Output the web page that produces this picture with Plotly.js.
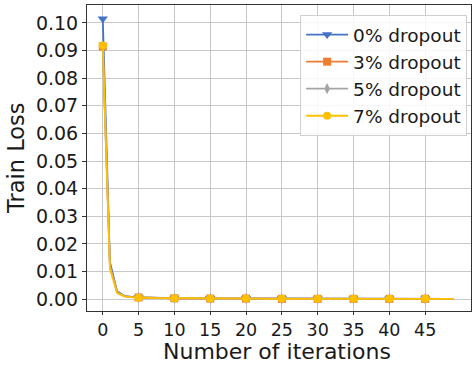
<!DOCTYPE html>
<html>
<head>
<meta charset="utf-8">
<script src="https://cdn.plot.ly/plotly-3.0.1.min.js"></script>
<style>html,body{margin:0;padding:0;background:#fff;}#chart{width:474px;height:366px;}</style>
</head>
<body>
<div id="chart"></div>
<script>
const iterations = Array.from({length: 50}, (_, i) => i);
const seriesNames = ["0% dropout", "3% dropout", "5% dropout", "7% dropout"];
const loss0 = [0.1015, 0.0135, 0.0028, 0.0012, 0.0008, 0.0006, 0.0005, 0.0005, 0.0004, 0.0004,
  0.0004, 0.0003, 0.0003, 0.0003, 0.0003, 0.0003, 0.0002, 0.0002, 0.0002, 0.0002,
  0.0002, 0.0002, 0.0002, 0.0002, 0.0002, 0.0002, 0.0001, 0.0001, 0.0001, 0.0001,
  0.0001, 0.0001, 0.0001, 0.0001, 0.0001, 0.0001, 0.0001, 0.0001, 0.0001, 0.0001,
  0.0001, 0.0001, 0.0001, 0.0001, 0.0001, 0.0001, 0.0001, 0.0001, 0.0001, 0.0001];
const loss3 = [0.0915, 0.0122, 0.0026, 0.0011, 0.0007, 0.0006, 0.0005, 0.0004, 0.0004, 0.0004,
  0.0003, 0.0003, 0.0003, 0.0003, 0.0003, 0.0002, 0.0002, 0.0002, 0.0002, 0.0002,
  0.0002, 0.0002, 0.0002, 0.0002, 0.0002, 0.0001, 0.0001, 0.0001, 0.0001, 0.0001,
  0.0001, 0.0001, 0.0001, 0.0001, 0.0001, 0.0001, 0.0001, 0.0001, 0.0001, 0.0001,
  0.0001, 0.0001, 0.0001, 0.0001, 0.0001, 0.0001, 0.0001, 0.0001, 0.0001, 0.0001];
const loss5 = [0.0912, 0.0118, 0.0025, 0.0011, 0.0007, 0.0006, 0.0005, 0.0004, 0.0004, 0.0003,
  0.0003, 0.0003, 0.0003, 0.0003, 0.0002, 0.0002, 0.0002, 0.0002, 0.0002, 0.0002,
  0.0002, 0.0002, 0.0002, 0.0002, 0.0001, 0.0001, 0.0001, 0.0001, 0.0001, 0.0001,
  0.0001, 0.0001, 0.0001, 0.0001, 0.0001, 0.0001, 0.0001, 0.0001, 0.0001, 0.0001,
  0.0001, 0.0001, 0.0001, 0.0001, 0.0001, 0.0001, 0.0001, 0.0001, 0.0001, 0.0001];
const loss7 = [0.0918, 0.0110, 0.0022, 0.0010, 0.0007, 0.0005, 0.0005, 0.0004, 0.0004, 0.0003,
  0.0003, 0.0003, 0.0003, 0.0002, 0.0002, 0.0002, 0.0002, 0.0002, 0.0002, 0.0002,
  0.0002, 0.0002, 0.0002, 0.0001, 0.0001, 0.0001, 0.0001, 0.0001, 0.0001, 0.0001,
  0.0001, 0.0001, 0.0001, 0.0001, 0.0001, 0.0001, 0.0001, 0.0001, 0.0001, 0.0001,
  0.0001, 0.0001, 0.0001, 0.0001, 0.0001, 0.0001, 0.0001, 0.0001, 0.0001, 0.0001];
const xTickVals = [0, 5, 10, 15, 20, 25, 30, 35, 40, 45];
const yTickVals = [0, 0.01, 0.02, 0.03, 0.04, 0.05, 0.06, 0.07, 0.08, 0.09, 0.10];
const xTitle = "Number of iterations";
const yTitle = "Train Loss";
const markEvery = 5;

const allLoss = [loss0, loss3, loss5, loss7];
const colors = ["#4472C4", "#ED7D31", "#A5A5A5", "#FFC000"];
const symbols = ["triangle-down", "square", "diamond-tall", "circle"];
const msizes = [9, 8, 8, 8];

const traces = [];
allLoss.forEach((ys, k) => {
  traces.push({
    x: iterations, y: ys, mode: "lines", type: "scatter",
    line: {color: colors[k], width: 1.8}, showlegend: false,
    legendgroup: "g" + k, hoverinfo: "skip"
  });
  const mx = [], my = [];
  iterations.forEach((xv, i) => {
    if (i % markEvery === 0) {
      if (mx.length) { mx.push(null); my.push(null); }
      mx.push(xv); my.push(ys[i]);
    }
  });
  traces.push({
    x: mx, y: my, mode: "lines+markers", type: "scatter", connectgaps: false,
    name: seriesNames[k], legendgroup: "g" + k,
    line: {color: colors[k], width: 1.8},
    marker: {symbol: symbols[k], size: msizes[k], color: colors[k]}
  });
});

const font = {family: "DejaVu Sans, sans-serif", color: "#1a1a1a"};
const layout = {
  width: 474, height: 366,
  margin: {l: 87, r: 3, t: 5, b: 55},
  paper_bgcolor: "#fff", plot_bgcolor: "#fff",
  font: Object.assign({size: 18}, font),
  xaxis: {
    range: [-2.2, 51.4], tickvals: xTickVals, ticktext: xTickVals.map(String),
    showgrid: true, gridcolor: "#c8c8c8", gridwidth: 1, zeroline: false,
    showline: true, mirror: true, linecolor: "#333", linewidth: 1,
    ticks: "outside", ticklen: 3, tickcolor: "#333",
    tickfont: {size: 17.5}
  },
  yaxis: {
    range: [-0.0043, 0.1065], tickvals: yTickVals, ticktext: yTickVals.map(v => v.toFixed(2)),
    showgrid: true, gridcolor: "#c8c8c8", gridwidth: 1, zeroline: false,
    showline: true, mirror: true, linecolor: "#333", linewidth: 1,
    ticks: "outside", ticklen: 4, tickcolor: "#333",
    tickfont: {size: 19}
  },
  annotations: [
    {text: xTitle, xref: "paper", yref: "paper", x: 0.495, y: -0.178,
     xanchor: "center", yanchor: "bottom", showarrow: false, font: {size: 22}, borderpad: 0},
    {text: yTitle, xref: "paper", yref: "paper", x: -0.185, y: 0.5, textangle: -90,
     xanchor: "center", yanchor: "middle", showarrow: false, font: {size: 22.5}}
  ],
  legend: {
    x: 0.555, y: 0.967, xanchor: "left", yanchor: "top",
    bgcolor: "rgba(255,255,255,0.85)", bordercolor: "#d0d0d0", borderwidth: 1,
    font: {size: 18.5}, tracegroupgap: 0, itemwidth: 42
  },
  showlegend: true
};

Plotly.newPlot("chart", traces, layout, {staticPlot: true, displayModeBar: false});
</script>
</body>
</html>
